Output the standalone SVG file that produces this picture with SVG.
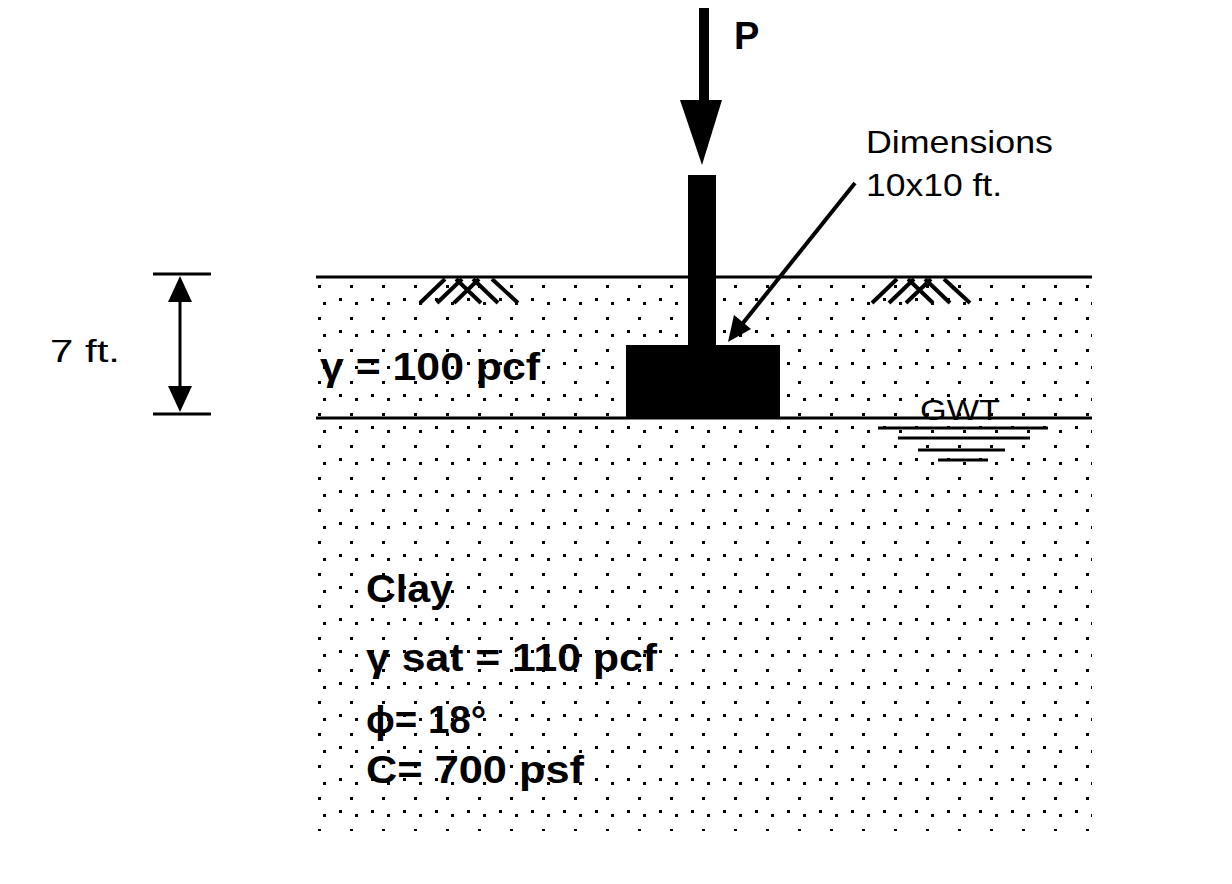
<svg xmlns="http://www.w3.org/2000/svg" width="1232" height="884" viewBox="0 0 1232 884">
<style>
.b{font-family:"Liberation Sans",Arial,sans-serif;font-weight:bold;font-size:38px;fill:#000}
.n{font-family:"Liberation Sans",Arial,sans-serif;font-size:32px;fill:#000}
.l{stroke:#000;stroke-width:3;fill:none}
.g{stroke:#000;stroke-width:4;fill:none}
</style>
<defs>
<pattern id="dots" x="310" y="420" width="32" height="32" patternUnits="userSpaceOnUse">
<rect x="13" y="10" width="3" height="3"/><rect x="29" y="6" width="3" height="3"/><rect x="8" y="25" width="3" height="3"/>
</pattern>
</defs>
<rect width="1232" height="884" fill="#fff"/>
<g id="soil">
<rect x="316" y="279" width="776" height="552" fill="url(#dots)"/>
<line class="l" x1="316" y1="277" x2="1092" y2="277"/>
<line class="l" x1="316" y1="418" x2="1092" y2="418"/>
</g>
<g id="grass1">
<path class="g" d="M420,303L445,279M437,303L462,279M454,303L479,279M456,279L481,303M473,279L498,303M492,279L518,303"/>
</g>
<g id="grass2">
<path class="g" d="M872,303L897,279M889,303L914,279M906,303L931,279M908,279L933,303M925,279L950,303M944,279L970,303"/>
</g>
<g id="footing">
<rect x="688" y="175" width="28" height="172"/>
<rect x="626" y="345" width="154" height="72"/>
</g>
<g id="load">
<rect x="699" y="8" width="10" height="95"/>
<path d="M680,100L722,100L702,165z"/>
<text class="b" x="734" y="49">P</text>
</g>
<g id="connectors">
<line x1="855" y1="183" x2="735" y2="333" stroke="#000" stroke-width="4"/>
<path d="M728,342L734,315L751,329z"/>
<line class="l" x1="153" y1="274" x2="211" y2="274"/>
<line class="l" x1="153" y1="414" x2="211" y2="414"/>
<line class="l" x1="180" y1="290" x2="180" y2="398"/>
<path d="M180,276L168,302L192,302z M180,412L168,386L192,386z"/>
</g>
<g id="gwt">
<text x="920" y="420" font-family="Liberation Sans,Arial,sans-serif" font-size="30" textLength="80" lengthAdjust="spacingAndGlyphs">GWT</text>
<path class="l" d="M878,428L1048,428M898,438L1030,438M918,450L1005,450M938,460L988,460"/>
</g>
<g id="labels">
<text class="n" x="866" y="153" textLength="187" lengthAdjust="spacingAndGlyphs">Dimensions</text>
<text class="n" x="866" y="196" textLength="136" lengthAdjust="spacingAndGlyphs">10x10 ft.</text>
<text class="n" x="50" y="362" textLength="70" lengthAdjust="spacingAndGlyphs">7 ft.</text>
<text class="b" x="320" y="380" textLength="220" lengthAdjust="spacingAndGlyphs">γ = 100 pcf</text>
<text class="b" x="366" y="602" textLength="87" lengthAdjust="spacingAndGlyphs">Clay</text>
<text class="b" x="366" y="671" textLength="291" lengthAdjust="spacingAndGlyphs">γ sat = 110 pcf</text>
<text class="b" x="366" y="733" textLength="120" lengthAdjust="spacingAndGlyphs">ϕ= 18°</text>
<text class="b" x="366" y="783" textLength="218" lengthAdjust="spacingAndGlyphs">C= 700 psf</text>
</g>
</svg>
